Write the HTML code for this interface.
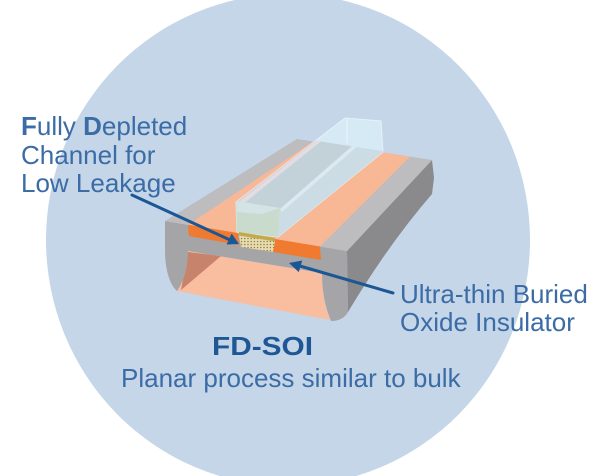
<!DOCTYPE html>
<html>
<head>
<meta charset="utf-8">
<style>
html,body{margin:0;padding:0;background:#ffffff;width:611px;height:476px;overflow:hidden;}
svg{display:block;}
text{font-family:"Liberation Sans",Arial,sans-serif;}
</style>
</head>
<body>
<svg width="611" height="476" viewBox="0 0 611 476" xmlns="http://www.w3.org/2000/svg">
  <defs>
    <pattern id="dots" x="0" y="0" width="3.2" height="3" patternUnits="userSpaceOnUse">
      <rect width="3.2" height="3" fill="#e9ddb0"/>
      <circle cx="1.6" cy="1.5" r="0.75" fill="#8c7c4c"/>
    </pattern>
    <clipPath id="belowBack">
      <polygon points="150,114.9 470,164.7 470,330 150,330"/>
    </clipPath>
  </defs>

  <!-- background ellipse -->
  <ellipse cx="288" cy="240" rx="242" ry="246" fill="#c5d6e8"/>

  <!-- cavity under BOX -->
  <path d="M188,251 L322,273 Q322,300 330,320 L177,291 Q188,275 188,251 Z" fill="#f9bd9f"/>
  <polygon points="188,252 221,256 181,290" fill="#c8836c"/>

  <!-- front cross-section face (grey frame incl. BOX and legs) -->
  <path d="M165,221 L347,251 L348,312 Q343,321 331,321 Q322,300 322,273 L188,251 Q188,275 177,291 C170,285 165,270 165,250 Z" fill="#a5a4a7"/>

  <!-- right side face -->
  <path d="M347,251 L432,160 L434,178 L432,194 Q388,245 348,312 Z" fill="#8a898c"/>

  <!-- slab top face -->
  <polygon points="165,221 297,139 432,160 347,251" fill="#bdbcbe"/>
  <!-- salmon silicon top region -->
  <polygon points="188,225 313,141.5 410,156.6 320,246.5" fill="#f8b795"/>

  <!-- orange silicon film on front face -->
  <polygon points="188,224.8 238,233 239,245 189,236" fill="#f07a30"/>
  <polygon points="275,239 320,246.5 321,260 273,252" fill="#f07a30"/>

  <!-- gate: protruding (behind slab) part -->
  <polygon points="237,232 236,202 345,118 381,121 383,152 278,237" fill="#d6eaf6" stroke="#e4f1f9" stroke-width="1"/>
  <line x1="347" y1="119" x2="347" y2="143" stroke="#e6f2fa" stroke-width="1.2"/>

  <!-- gate over slab -->
  <g clip-path="url(#belowBack)">
    <polygon points="236,202 345,118 317,142 237,232" fill="#dbd2d7"/>
    <polygon points="238,203 345,118 381,121 280,209" fill="#c3d2d9"/>
    <polygon points="280,209 381,121 383,152 278,237" fill="#cbdce5"/>
    <polygon points="238,203 345,118 350,118 243,204" fill="#e3dde2"/>
    <polygon points="280,209 381,121 383,124 282,212" fill="#dbe9f1"/>
  </g>
  <!-- gate front face -->
  <polygon points="236,201 280,208 278,237 237,232" fill="#c8dbcc"/>
  <polygon points="236,201 280,208 262,214 237,212" fill="#d4e4e6"/>

  <!-- gate oxide strip & channel -->
  <polygon points="239,232 275,238 275,241.5 239,235.5" fill="#c2a94a"/>
  <polygon points="239,235.5 275,241.5 273,252 241,247" fill="url(#dots)"/>

  <!-- arrows -->
  <g stroke="#1c5795" stroke-width="3" fill="none" stroke-linecap="round">
    <line x1="132" y1="195" x2="229" y2="239.5"/>
    <line x1="393" y1="293" x2="300" y2="266"/>
  </g>
  <polygon points="239,244 226.6,244.5 231.6,233.5" fill="#1c5795"/>
  <polygon points="289,263 302.2,260.5 298.8,272.1" fill="#1c5795"/>

  <!-- labels -->
  <g fill="#3b6ca6" font-size="26">
    <text x="21" y="135"><tspan font-weight="bold">F</tspan>ully <tspan font-weight="bold">D</tspan>epleted</text>
    <text x="21" y="164">Channel for</text>
    <text x="21" y="192">Low Leakage</text>
    <text x="400" y="303">Ultra-thin Buried</text>
    <text x="400" y="331">Oxide Insulator</text>
    <text x="121" y="387">Planar process similar to bulk</text>
  </g>
  <text x="212" y="355" font-size="26" font-weight="bold" fill="#1f5795" textLength="101" lengthAdjust="spacingAndGlyphs">FD-SOI</text>
</svg>
</body>
</html>
